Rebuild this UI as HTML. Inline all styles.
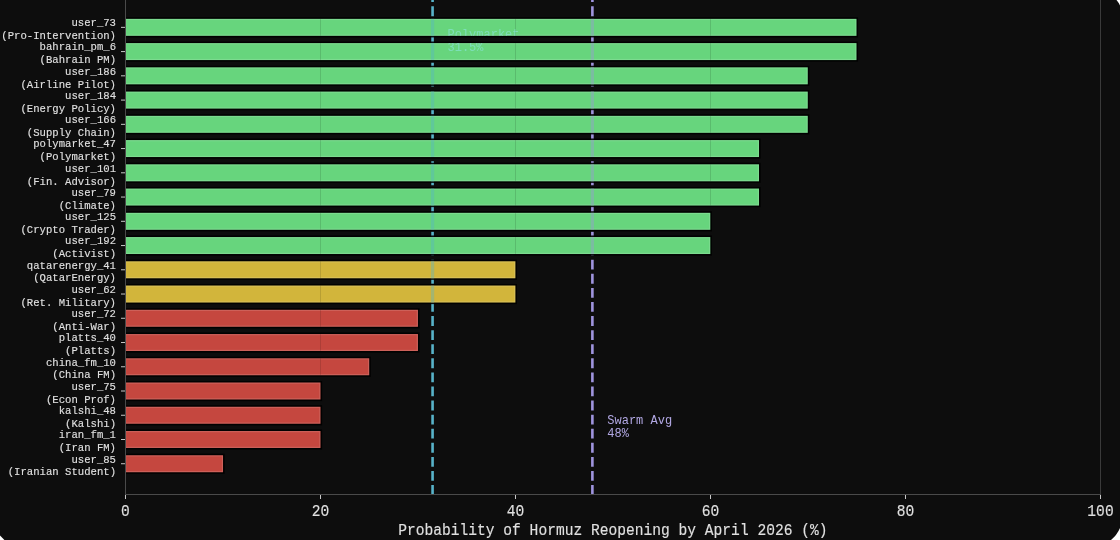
<!DOCTYPE html>
<html><head><meta charset="utf-8"><style>
html,body{margin:0;padding:0;background:#0d0d0d;overflow:hidden;}
svg{display:block;}
text{font-family:"Liberation Mono", monospace;}
.gt text{stroke:#e0e0e0;stroke-width:0.12px;}
</style></head><body>
<svg width="1120" height="540" viewBox="0 0 1120 540">
<defs><filter id="gs" x="0" y="0" width="1120" height="540" filterUnits="userSpaceOnUse" color-interpolation-filters="sRGB"><feColorMatrix type="saturate" values="0"/></filter><filter id="bl" x="0" y="0" width="1120" height="540" filterUnits="userSpaceOnUse"><feGaussianBlur stdDeviation="0.7"/></filter><filter id="id" x="0" y="0" width="1120" height="540" filterUnits="userSpaceOnUse"><feOffset dx="0" dy="0"/></filter></defs>
<rect x="0" y="0" width="1120" height="540" fill="#0d0d0d"/>
<line x1="432.57" y1="494.90" x2="432.57" y2="-3.80" stroke="#58b3c9" stroke-width="2.6" stroke-dasharray="9.83 4.25"/>
<line x1="592.39" y1="494.90" x2="592.39" y2="-3.80" stroke="#9f94de" stroke-width="2.6" stroke-dasharray="9.83 4.25"/>
<rect x="125.60" y="17.26" width="732.47" height="20.17" fill="#000" fill-opacity="0.9"/>
<rect x="125.60" y="41.51" width="732.47" height="20.17" fill="#000" fill-opacity="0.9"/>
<rect x="125.60" y="65.75" width="683.75" height="20.17" fill="#000" fill-opacity="0.9"/>
<rect x="125.60" y="90.00" width="683.75" height="20.17" fill="#000" fill-opacity="0.9"/>
<rect x="125.60" y="114.24" width="683.75" height="20.17" fill="#000" fill-opacity="0.9"/>
<rect x="125.60" y="138.48" width="635.02" height="20.17" fill="#000" fill-opacity="0.9"/>
<rect x="125.60" y="162.73" width="635.02" height="20.17" fill="#000" fill-opacity="0.9"/>
<rect x="125.60" y="186.97" width="635.02" height="20.17" fill="#000" fill-opacity="0.9"/>
<rect x="125.60" y="211.22" width="586.30" height="20.17" fill="#000" fill-opacity="0.9"/>
<rect x="125.60" y="235.46" width="586.30" height="20.17" fill="#000" fill-opacity="0.9"/>
<rect x="125.60" y="259.70" width="391.40" height="20.17" fill="#000" fill-opacity="0.9"/>
<rect x="125.60" y="283.95" width="391.40" height="20.17" fill="#000" fill-opacity="0.9"/>
<rect x="125.60" y="308.19" width="293.95" height="20.17" fill="#000" fill-opacity="0.9"/>
<rect x="125.60" y="332.44" width="293.95" height="20.17" fill="#000" fill-opacity="0.9"/>
<rect x="125.60" y="356.68" width="245.22" height="20.17" fill="#000" fill-opacity="0.9"/>
<rect x="125.60" y="380.92" width="196.50" height="20.17" fill="#000" fill-opacity="0.9"/>
<rect x="125.60" y="405.17" width="196.50" height="20.17" fill="#000" fill-opacity="0.9"/>
<rect x="125.60" y="429.41" width="196.50" height="20.17" fill="#000" fill-opacity="0.9"/>
<rect x="125.60" y="453.66" width="99.05" height="20.17" fill="#000" fill-opacity="0.9"/>
<rect x="125.60" y="18.86" width="730.87" height="16.97" fill="#70e788" fill-opacity="0.92"/>
<rect x="125.60" y="43.11" width="730.87" height="16.97" fill="#70e788" fill-opacity="0.92"/>
<rect x="125.60" y="67.35" width="682.15" height="16.97" fill="#70e788" fill-opacity="0.92"/>
<rect x="125.60" y="91.60" width="682.15" height="16.97" fill="#70e788" fill-opacity="0.92"/>
<rect x="125.60" y="115.84" width="682.15" height="16.97" fill="#70e788" fill-opacity="0.92"/>
<rect x="125.60" y="140.08" width="633.42" height="16.97" fill="#70e788" fill-opacity="0.92"/>
<rect x="125.60" y="164.33" width="633.42" height="16.97" fill="#70e788" fill-opacity="0.92"/>
<rect x="125.60" y="188.57" width="633.42" height="16.97" fill="#70e788" fill-opacity="0.92"/>
<rect x="125.60" y="212.82" width="584.70" height="16.97" fill="#70e788" fill-opacity="0.92"/>
<rect x="125.60" y="237.06" width="584.70" height="16.97" fill="#70e788" fill-opacity="0.92"/>
<rect x="125.60" y="261.30" width="389.80" height="16.97" fill="#e4c440" fill-opacity="0.92"/>
<rect x="125.60" y="285.55" width="389.80" height="16.97" fill="#e4c440" fill-opacity="0.92"/>
<rect x="125.60" y="309.79" width="292.35" height="16.97" fill="#d64d44" fill-opacity="0.92"/>
<rect x="125.60" y="334.04" width="292.35" height="16.97" fill="#d64d44" fill-opacity="0.92"/>
<rect x="125.60" y="358.28" width="243.62" height="16.97" fill="#d64d44" fill-opacity="0.92"/>
<rect x="125.60" y="382.52" width="194.90" height="16.97" fill="#d64d44" fill-opacity="0.92"/>
<rect x="125.60" y="406.77" width="194.90" height="16.97" fill="#d64d44" fill-opacity="0.92"/>
<rect x="125.60" y="431.01" width="194.90" height="16.97" fill="#d64d44" fill-opacity="0.92"/>
<rect x="125.60" y="455.26" width="97.45" height="16.97" fill="#d64d44" fill-opacity="0.92"/>
<rect x="125.60" y="19.46" width="730.27" height="15.77" fill="none" stroke="#fff" stroke-opacity="0.14" stroke-width="1.2"/>
<rect x="125.60" y="43.71" width="730.27" height="15.77" fill="none" stroke="#fff" stroke-opacity="0.14" stroke-width="1.2"/>
<rect x="125.60" y="67.95" width="681.55" height="15.77" fill="none" stroke="#fff" stroke-opacity="0.14" stroke-width="1.2"/>
<rect x="125.60" y="92.20" width="681.55" height="15.77" fill="none" stroke="#fff" stroke-opacity="0.14" stroke-width="1.2"/>
<rect x="125.60" y="116.44" width="681.55" height="15.77" fill="none" stroke="#fff" stroke-opacity="0.14" stroke-width="1.2"/>
<rect x="125.60" y="140.68" width="632.82" height="15.77" fill="none" stroke="#fff" stroke-opacity="0.14" stroke-width="1.2"/>
<rect x="125.60" y="164.93" width="632.82" height="15.77" fill="none" stroke="#fff" stroke-opacity="0.14" stroke-width="1.2"/>
<rect x="125.60" y="189.17" width="632.82" height="15.77" fill="none" stroke="#fff" stroke-opacity="0.14" stroke-width="1.2"/>
<rect x="125.60" y="213.42" width="584.10" height="15.77" fill="none" stroke="#fff" stroke-opacity="0.14" stroke-width="1.2"/>
<rect x="125.60" y="237.66" width="584.10" height="15.77" fill="none" stroke="#fff" stroke-opacity="0.14" stroke-width="1.2"/>
<rect x="125.60" y="261.90" width="389.20" height="15.77" fill="none" stroke="#fff" stroke-opacity="0.14" stroke-width="1.2"/>
<rect x="125.60" y="286.15" width="389.20" height="15.77" fill="none" stroke="#fff" stroke-opacity="0.14" stroke-width="1.2"/>
<rect x="125.60" y="310.39" width="291.75" height="15.77" fill="none" stroke="#fff" stroke-opacity="0.14" stroke-width="1.2"/>
<rect x="125.60" y="334.64" width="291.75" height="15.77" fill="none" stroke="#fff" stroke-opacity="0.14" stroke-width="1.2"/>
<rect x="125.60" y="358.88" width="243.02" height="15.77" fill="none" stroke="#fff" stroke-opacity="0.14" stroke-width="1.2"/>
<rect x="125.60" y="383.12" width="194.30" height="15.77" fill="none" stroke="#fff" stroke-opacity="0.14" stroke-width="1.2"/>
<rect x="125.60" y="407.37" width="194.30" height="15.77" fill="none" stroke="#fff" stroke-opacity="0.14" stroke-width="1.2"/>
<rect x="125.60" y="431.61" width="194.30" height="15.77" fill="none" stroke="#fff" stroke-opacity="0.14" stroke-width="1.2"/>
<rect x="125.60" y="455.86" width="96.85" height="15.77" fill="none" stroke="#fff" stroke-opacity="0.14" stroke-width="1.2"/>
<clipPath id="bc"><rect x="125.60" y="18.86" width="730.87" height="16.97"/><rect x="125.60" y="43.11" width="730.87" height="16.97"/><rect x="125.60" y="67.35" width="682.15" height="16.97"/><rect x="125.60" y="91.60" width="682.15" height="16.97"/><rect x="125.60" y="115.84" width="682.15" height="16.97"/><rect x="125.60" y="140.08" width="633.42" height="16.97"/><rect x="125.60" y="164.33" width="633.42" height="16.97"/><rect x="125.60" y="188.57" width="633.42" height="16.97"/><rect x="125.60" y="212.82" width="584.70" height="16.97"/><rect x="125.60" y="237.06" width="584.70" height="16.97"/><rect x="125.60" y="261.30" width="389.80" height="16.97"/><rect x="125.60" y="285.55" width="389.80" height="16.97"/><rect x="125.60" y="309.79" width="292.35" height="16.97"/><rect x="125.60" y="334.04" width="292.35" height="16.97"/><rect x="125.60" y="358.28" width="243.62" height="16.97"/><rect x="125.60" y="382.52" width="194.90" height="16.97"/><rect x="125.60" y="406.77" width="194.90" height="16.97"/><rect x="125.60" y="431.01" width="194.90" height="16.97"/><rect x="125.60" y="455.26" width="97.45" height="16.97"/></clipPath>
<g clip-path="url(#bc)">
<line x1="432.57" y1="494.90" x2="432.57" y2="-3.80" stroke="#58b3c9" stroke-width="3.2" stroke-opacity="0.38"/>
<line x1="592.39" y1="494.90" x2="592.39" y2="-3.80" stroke="#9f94de" stroke-width="3.2" stroke-opacity="0.38"/>
</g>
<g clip-path="url(#bc)">
<line x1="320.50" y1="-3.80" x2="320.50" y2="494.50" stroke="#000" stroke-opacity="0.12" stroke-width="1"/>
<line x1="515.50" y1="-3.80" x2="515.50" y2="494.50" stroke="#000" stroke-opacity="0.12" stroke-width="1"/>
<line x1="710.50" y1="-3.80" x2="710.50" y2="494.50" stroke="#000" stroke-opacity="0.12" stroke-width="1"/>
<line x1="905.50" y1="-3.80" x2="905.50" y2="494.50" stroke="#000" stroke-opacity="0.12" stroke-width="1"/>
</g>
<line x1="1100.50" y1="-3.80" x2="1100.50" y2="494.50" stroke="#3a3a3a" stroke-width="1"/>
<line x1="125.50" y1="-3.80" x2="125.50" y2="495.00" stroke="#4a4a4a" stroke-width="1"/>
<line x1="125.00" y1="494.50" x2="1101.00" y2="494.50" stroke="#4a4a4a" stroke-width="1"/>
<g clip-path="url(#bc)"><g filter="url(#bl)">
<text transform="translate(447.50,37.50) scale(1,1.12)" font-size="12.0" fill="rgba(150,235,255,0.45)" text-anchor="start">Polymarket</text>
<text transform="translate(447.50,50.80) scale(1,1.12)" font-size="12.0" fill="rgba(150,235,255,0.45)" text-anchor="start">31.5%</text>
</g></g>
<g filter="url(#id)">
<text transform="translate(607.30,423.50) scale(1,1.12)" font-size="12.0" fill="#b2a8e4" text-anchor="start">Swarm Avg</text>
<text transform="translate(607.30,437.10) scale(1,1.12)" font-size="12.0" fill="#b2a8e4" text-anchor="start">48%</text>
</g>
<g class="gt" filter="url(#gs)">
<line x1="121.00" y1="27.35" x2="125.00" y2="27.35" stroke="#c8c8c8" stroke-width="1"/>
<text transform="translate(116.00,26.15) scale(1,1.1)" font-size="10.62" fill="#e0e0e0" text-anchor="end">user_73</text>
<text transform="translate(116.00,39.05) scale(1,1.1)" font-size="10.62" fill="#e0e0e0" text-anchor="end">(Pro-Intervention)</text>
<line x1="121.00" y1="51.59" x2="125.00" y2="51.59" stroke="#c8c8c8" stroke-width="1"/>
<text transform="translate(116.00,50.39) scale(1,1.1)" font-size="10.62" fill="#e0e0e0" text-anchor="end">bahrain_pm_6</text>
<text transform="translate(116.00,63.29) scale(1,1.1)" font-size="10.62" fill="#e0e0e0" text-anchor="end">(Bahrain PM)</text>
<line x1="121.00" y1="75.84" x2="125.00" y2="75.84" stroke="#c8c8c8" stroke-width="1"/>
<text transform="translate(116.00,74.64) scale(1,1.1)" font-size="10.62" fill="#e0e0e0" text-anchor="end">user_186</text>
<text transform="translate(116.00,87.54) scale(1,1.1)" font-size="10.62" fill="#e0e0e0" text-anchor="end">(Airline Pilot)</text>
<line x1="121.00" y1="100.08" x2="125.00" y2="100.08" stroke="#c8c8c8" stroke-width="1"/>
<text transform="translate(116.00,98.88) scale(1,1.1)" font-size="10.62" fill="#e0e0e0" text-anchor="end">user_184</text>
<text transform="translate(116.00,111.78) scale(1,1.1)" font-size="10.62" fill="#e0e0e0" text-anchor="end">(Energy Policy)</text>
<line x1="121.00" y1="124.33" x2="125.00" y2="124.33" stroke="#c8c8c8" stroke-width="1"/>
<text transform="translate(116.00,123.13) scale(1,1.1)" font-size="10.62" fill="#e0e0e0" text-anchor="end">user_166</text>
<text transform="translate(116.00,136.03) scale(1,1.1)" font-size="10.62" fill="#e0e0e0" text-anchor="end">(Supply Chain)</text>
<line x1="121.00" y1="148.57" x2="125.00" y2="148.57" stroke="#c8c8c8" stroke-width="1"/>
<text transform="translate(116.00,147.37) scale(1,1.1)" font-size="10.62" fill="#e0e0e0" text-anchor="end">polymarket_47</text>
<text transform="translate(116.00,160.27) scale(1,1.1)" font-size="10.62" fill="#e0e0e0" text-anchor="end">(Polymarket)</text>
<line x1="121.00" y1="172.81" x2="125.00" y2="172.81" stroke="#c8c8c8" stroke-width="1"/>
<text transform="translate(116.00,171.61) scale(1,1.1)" font-size="10.62" fill="#e0e0e0" text-anchor="end">user_101</text>
<text transform="translate(116.00,184.51) scale(1,1.1)" font-size="10.62" fill="#e0e0e0" text-anchor="end">(Fin. Advisor)</text>
<line x1="121.00" y1="197.06" x2="125.00" y2="197.06" stroke="#c8c8c8" stroke-width="1"/>
<text transform="translate(116.00,195.86) scale(1,1.1)" font-size="10.62" fill="#e0e0e0" text-anchor="end">user_79</text>
<text transform="translate(116.00,208.76) scale(1,1.1)" font-size="10.62" fill="#e0e0e0" text-anchor="end">(Climate)</text>
<line x1="121.00" y1="221.30" x2="125.00" y2="221.30" stroke="#c8c8c8" stroke-width="1"/>
<text transform="translate(116.00,220.10) scale(1,1.1)" font-size="10.62" fill="#e0e0e0" text-anchor="end">user_125</text>
<text transform="translate(116.00,233.00) scale(1,1.1)" font-size="10.62" fill="#e0e0e0" text-anchor="end">(Crypto Trader)</text>
<line x1="121.00" y1="245.55" x2="125.00" y2="245.55" stroke="#c8c8c8" stroke-width="1"/>
<text transform="translate(116.00,244.35) scale(1,1.1)" font-size="10.62" fill="#e0e0e0" text-anchor="end">user_192</text>
<text transform="translate(116.00,257.25) scale(1,1.1)" font-size="10.62" fill="#e0e0e0" text-anchor="end">(Activist)</text>
<line x1="121.00" y1="269.79" x2="125.00" y2="269.79" stroke="#c8c8c8" stroke-width="1"/>
<text transform="translate(116.00,268.59) scale(1,1.1)" font-size="10.62" fill="#e0e0e0" text-anchor="end">qatarenergy_41</text>
<text transform="translate(116.00,281.49) scale(1,1.1)" font-size="10.62" fill="#e0e0e0" text-anchor="end">(QatarEnergy)</text>
<line x1="121.00" y1="294.03" x2="125.00" y2="294.03" stroke="#c8c8c8" stroke-width="1"/>
<text transform="translate(116.00,292.83) scale(1,1.1)" font-size="10.62" fill="#e0e0e0" text-anchor="end">user_62</text>
<text transform="translate(116.00,305.73) scale(1,1.1)" font-size="10.62" fill="#e0e0e0" text-anchor="end">(Ret. Military)</text>
<line x1="121.00" y1="318.28" x2="125.00" y2="318.28" stroke="#c8c8c8" stroke-width="1"/>
<text transform="translate(116.00,317.08) scale(1,1.1)" font-size="10.62" fill="#e0e0e0" text-anchor="end">user_72</text>
<text transform="translate(116.00,329.98) scale(1,1.1)" font-size="10.62" fill="#e0e0e0" text-anchor="end">(Anti-War)</text>
<line x1="121.00" y1="342.52" x2="125.00" y2="342.52" stroke="#c8c8c8" stroke-width="1"/>
<text transform="translate(116.00,341.32) scale(1,1.1)" font-size="10.62" fill="#e0e0e0" text-anchor="end">platts_40</text>
<text transform="translate(116.00,354.22) scale(1,1.1)" font-size="10.62" fill="#e0e0e0" text-anchor="end">(Platts)</text>
<line x1="121.00" y1="366.77" x2="125.00" y2="366.77" stroke="#c8c8c8" stroke-width="1"/>
<text transform="translate(116.00,365.57) scale(1,1.1)" font-size="10.62" fill="#e0e0e0" text-anchor="end">china_fm_10</text>
<text transform="translate(116.00,378.47) scale(1,1.1)" font-size="10.62" fill="#e0e0e0" text-anchor="end">(China FM)</text>
<line x1="121.00" y1="391.01" x2="125.00" y2="391.01" stroke="#c8c8c8" stroke-width="1"/>
<text transform="translate(116.00,389.81) scale(1,1.1)" font-size="10.62" fill="#e0e0e0" text-anchor="end">user_75</text>
<text transform="translate(116.00,402.71) scale(1,1.1)" font-size="10.62" fill="#e0e0e0" text-anchor="end">(Econ Prof)</text>
<line x1="121.00" y1="415.25" x2="125.00" y2="415.25" stroke="#c8c8c8" stroke-width="1"/>
<text transform="translate(116.00,414.05) scale(1,1.1)" font-size="10.62" fill="#e0e0e0" text-anchor="end">kalshi_48</text>
<text transform="translate(116.00,426.95) scale(1,1.1)" font-size="10.62" fill="#e0e0e0" text-anchor="end">(Kalshi)</text>
<line x1="121.00" y1="439.50" x2="125.00" y2="439.50" stroke="#c8c8c8" stroke-width="1"/>
<text transform="translate(116.00,438.30) scale(1,1.1)" font-size="10.62" fill="#e0e0e0" text-anchor="end">iran_fm_1</text>
<text transform="translate(116.00,451.20) scale(1,1.1)" font-size="10.62" fill="#e0e0e0" text-anchor="end">(Iran FM)</text>
<line x1="121.00" y1="463.74" x2="125.00" y2="463.74" stroke="#c8c8c8" stroke-width="1"/>
<text transform="translate(116.00,462.54) scale(1,1.1)" font-size="10.62" fill="#e0e0e0" text-anchor="end">user_85</text>
<text transform="translate(116.00,475.44) scale(1,1.1)" font-size="10.62" fill="#e0e0e0" text-anchor="end">(Iranian Student)</text>
<line x1="125.50" y1="495.00" x2="125.50" y2="499.00" stroke="#c8c8c8" stroke-width="1"/>
<text transform="translate(125.50,515.50) scale(1,1.12)" font-size="14.6" fill="#e0e0e0" text-anchor="middle">0</text>
<line x1="320.50" y1="495.00" x2="320.50" y2="499.00" stroke="#c8c8c8" stroke-width="1"/>
<text transform="translate(320.50,515.50) scale(1,1.12)" font-size="14.6" fill="#e0e0e0" text-anchor="middle">20</text>
<line x1="515.50" y1="495.00" x2="515.50" y2="499.00" stroke="#c8c8c8" stroke-width="1"/>
<text transform="translate(515.50,515.50) scale(1,1.12)" font-size="14.6" fill="#e0e0e0" text-anchor="middle">40</text>
<line x1="710.50" y1="495.00" x2="710.50" y2="499.00" stroke="#c8c8c8" stroke-width="1"/>
<text transform="translate(710.50,515.50) scale(1,1.12)" font-size="14.6" fill="#e0e0e0" text-anchor="middle">60</text>
<line x1="905.50" y1="495.00" x2="905.50" y2="499.00" stroke="#c8c8c8" stroke-width="1"/>
<text transform="translate(905.50,515.50) scale(1,1.12)" font-size="14.6" fill="#e0e0e0" text-anchor="middle">80</text>
<line x1="1100.50" y1="495.00" x2="1100.50" y2="499.00" stroke="#c8c8c8" stroke-width="1"/>
<text transform="translate(1100.50,515.50) scale(1,1.12)" font-size="14.6" fill="#e0e0e0" text-anchor="middle">100</text>
<text transform="translate(612.85,535.30) scale(1,1.12)" font-size="14.6" fill="#e0e0e0" text-anchor="middle">Probability of Hormuz Reopening by April 2026 (%)</text>
</g>
<path d="M1111,540 Q1117,535 1120,528 L1120,540 Z" fill="#fff"/>
<path d="M1116.5,0 Q1119,3 1120,5.5 L1120,0 Z" fill="#fff"/>
<path d="M0,535.5 Q2.5,538 4.4,540 L0,540 Z" fill="#fff"/>
</svg>
</body></html>
